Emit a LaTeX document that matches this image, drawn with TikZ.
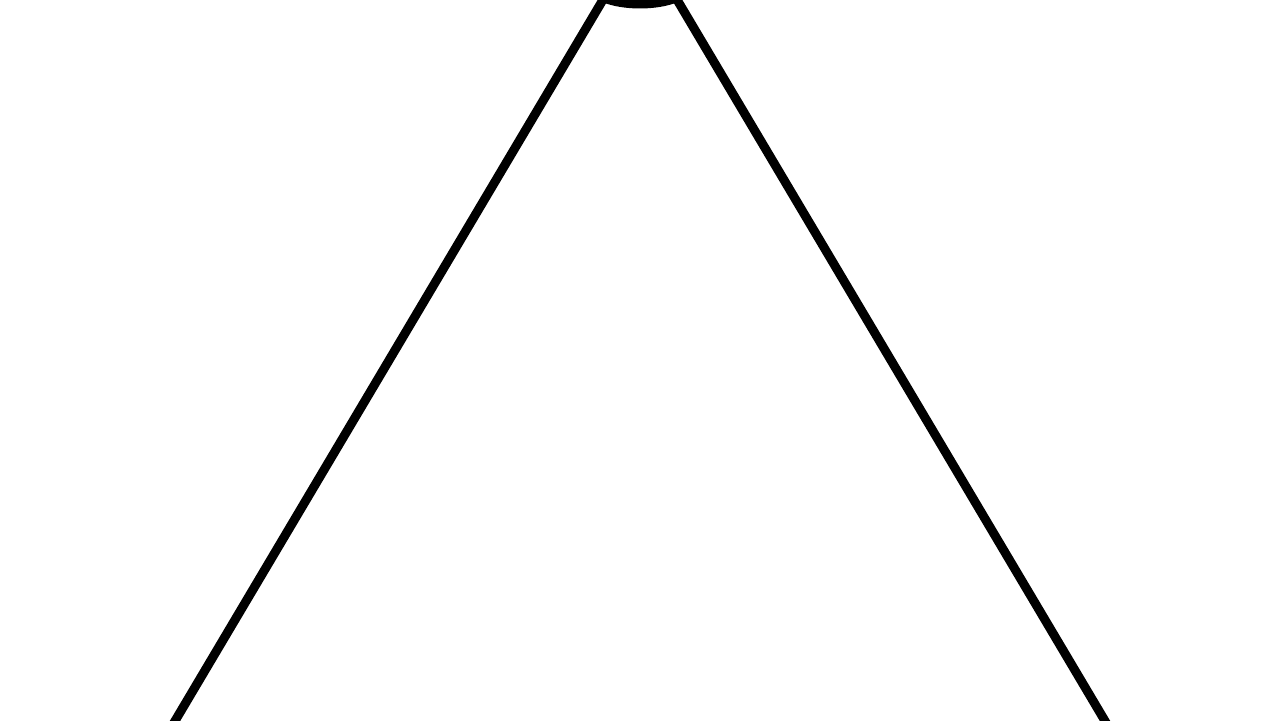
\documentclass[tikz,border=0pt]{standalone}
\begin{document}
\begin{tikzpicture}[x=0.02cm,y=-0.02cm,
  edge/.style={line width=0.18cm,line join=round,draw=black}]
\useasboundingbox (0,0) rectangle (1280,720);
\fill[white] (0,0) rectangle (1280,720);
\clip (0,0) rectangle (1280,720);
\coordinate (bl) at (172,726);
\coordinate (tl) at (604,-2);
\coordinate (tr) at (676,-2);
\coordinate (br) at (1108,726);
\draw[edge] (bl) -- (tl) .. controls (624,6) and (656,6) .. (tr) -- (br);
\end{tikzpicture}
\end{document}
